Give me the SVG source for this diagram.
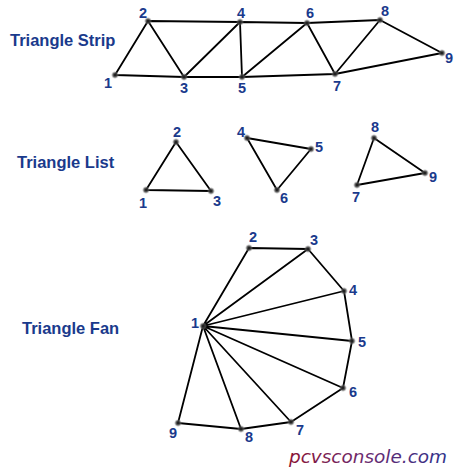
<svg xmlns="http://www.w3.org/2000/svg" width="456" height="474" viewBox="0 0 456 474">
<style>
.title{font-family:"Liberation Sans",Arial,sans-serif;font-weight:bold;font-size:16.5px;fill:#1a3a8c}
.lbl{font-family:"Liberation Sans",Arial,sans-serif;font-weight:bold;font-size:14.5px;fill:#1a3a8c;text-anchor:middle}
.e{stroke:#000;stroke-width:1.8;fill:none;stroke-linejoin:round;stroke-linecap:round}
.wm{font-family:"DejaVu Sans","Liberation Sans",sans-serif;font-style:italic;font-size:18px;fill:url(#wg)}
</style>
<defs>
<radialGradient id="dg"><stop offset="0" stop-color="#111"/><stop offset="0.5" stop-color="#444" stop-opacity="0.85"/><stop offset="1" stop-color="#999" stop-opacity="0"/></radialGradient>
<linearGradient id="wg" x1="0" y1="0" x2="1" y2="0"><stop offset="0" stop-color="#8a1535"/><stop offset="0.5" stop-color="#6a2a70"/><stop offset="1" stop-color="#30308a"/></linearGradient>
<circle id="dot" r="4" fill="url(#dg)"/>
</defs>
<rect width="456" height="474" fill="#fff"/>
<text class="title" x="10" y="46">Triangle Strip</text>
<text class="title" x="17" y="168">Triangle List</text>
<text class="title" x="22" y="334">Triangle Fan</text>
<g id="connectors">
<path class="e" d="M115,75 L148,21 L184,77 Z M148,21 L240,22 L307,23 L380,20 L442,53 L335,74 L242,77 L184,77 L115,75 M184,77 L240,22 L242,77 L307,23 L335,74 L380,20"/>
<path class="e" d="M146,190 L176,142 L211,191 Z M247,138 L311,149 L277,190 Z M374,138 L425,173 L357,185 Z"/>
<path class="e" d="M203,326 L249,248 L308,249 L344,291 L352,341 L343,388 L291,422 L241,429 L178,423 Z M203,326 L308,249 M203,326 L344,291 M203,326 L352,341 M203,326 L343,388 M203,326 L291,422 M203,326 L241,429"/>
</g>
<g id="strip">
<g id="s1"><use href="#dot" x="115" y="75"/><text class="lbl" x="108" y="88">1</text></g>
<g id="s2"><use href="#dot" x="148" y="21"/><text class="lbl" x="143" y="18">2</text></g>
<g id="s3"><use href="#dot" x="184" y="77"/><text class="lbl" x="184" y="93">3</text></g>
<g id="s4"><use href="#dot" x="240" y="22"/><text class="lbl" x="241" y="18">4</text></g>
<g id="s5"><use href="#dot" x="242" y="77"/><text class="lbl" x="242" y="93">5</text></g>
<g id="s6"><use href="#dot" x="307" y="23"/><text class="lbl" x="310" y="18">6</text></g>
<g id="s7"><use href="#dot" x="335" y="74"/><text class="lbl" x="337" y="91">7</text></g>
<g id="s8"><use href="#dot" x="380" y="20"/><text class="lbl" x="385" y="16">8</text></g>
<g id="s9"><use href="#dot" x="442" y="53"/><text class="lbl" x="449" y="63">9</text></g>
</g>
<g id="list">
<g id="l1"><use href="#dot" x="146" y="190"/><text class="lbl" x="143" y="208">1</text></g>
<g id="l2"><use href="#dot" x="176" y="142"/><text class="lbl" x="177" y="137">2</text></g>
<g id="l3"><use href="#dot" x="211" y="191"/><text class="lbl" x="217" y="206">3</text></g>
<g id="l4"><use href="#dot" x="247" y="138"/><text class="lbl" x="241" y="137">4</text></g>
<g id="l5"><use href="#dot" x="311" y="149"/><text class="lbl" x="319" y="152">5</text></g>
<g id="l6"><use href="#dot" x="277" y="190"/><text class="lbl" x="284" y="203">6</text></g>
<g id="l7"><use href="#dot" x="357" y="185"/><text class="lbl" x="356" y="202">7</text></g>
<g id="l8"><use href="#dot" x="374" y="138"/><text class="lbl" x="375" y="132">8</text></g>
<g id="l9"><use href="#dot" x="425" y="173"/><text class="lbl" x="433" y="182">9</text></g>
</g>
<g id="fan">
<g id="f1"><use href="#dot" x="203" y="326"/><text class="lbl" x="195" y="328">1</text></g>
<g id="f2"><use href="#dot" x="249" y="248"/><text class="lbl" x="253" y="242">2</text></g>
<g id="f3"><use href="#dot" x="308" y="249"/><text class="lbl" x="314" y="245">3</text></g>
<g id="f4"><use href="#dot" x="344" y="291"/><text class="lbl" x="353" y="295">4</text></g>
<g id="f5"><use href="#dot" x="352" y="341"/><text class="lbl" x="362" y="347">5</text></g>
<g id="f6"><use href="#dot" x="343" y="388"/><text class="lbl" x="353" y="397">6</text></g>
<g id="f7"><use href="#dot" x="291" y="422"/><text class="lbl" x="300" y="435">7</text></g>
<g id="f8"><use href="#dot" x="241" y="429"/><text class="lbl" x="249" y="442">8</text></g>
<g id="f9"><use href="#dot" x="178" y="423"/><text class="lbl" x="173" y="438">9</text></g>
</g>
<text class="wm" x="289" y="463" textLength="158" lengthAdjust="spacingAndGlyphs">pcvsconsole.com</text>
</svg>
